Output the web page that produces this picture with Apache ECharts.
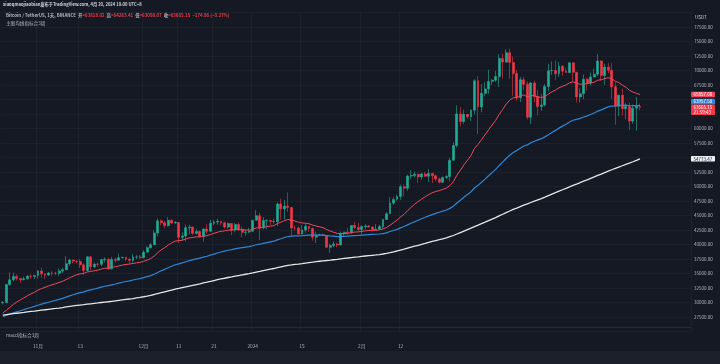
<!DOCTYPE html>
<html><head><meta charset="utf-8">
<script src="https://cdn.jsdelivr.net/npm/echarts@6/dist/echarts.min.js"></script>
<style>html,body{margin:0;padding:0;background:#151924;}#c{width:720px;height:364px;}</style>
</head><body><div id="c"></div>
<script>
// ---- data (BTC/USDT daily, 2023-10-22 .. 2024-04-20) ----
const startDate = '2023-10-22';
const futureSlots = 14;
const opens = [29909,29992,33086,33901,34502,34156,33909,34089,34538,34502,
34667,35437,34938,34732,35082,35049,35037,35443,35655,36694,
37313,37138,37054,36502,35537,37880,36155,36596,36585,37387,
37476,35813,37432,37289,37721,37796,37479,37255,37831,37858,
37723,38682,39450,39973,41991,44074,43762,43273,44171,43713,
43789,41244,41450,42890,43023,41929,42240,41365,42657,42271,
43652,43869,43997,43740,43016,43613,42520,43442,42627,42100,
42156,42283,44180,44946,42845,44151,44162,43989,43943,46970,
46139,46628,46369,42853,42842,41796,42511,43154,42742,41262,
41618,41665,41545,39507,39845,40077,39934,41816,42120,42035,
43288,42952,42582,43082,43200,43012,42583,42659,43085,44318,
45301,47147,47771,48278,49958,49700,51795,51880,52124,51642,
52137,51774,52258,51849,51283,50731,51571,51733,54522,57085,
62504,61198,62440,62029,63168,68245,63724,66074,66823,68124,
68313,68955,72078,71452,73072,71388,69499,65300,68393,67609,
61937,67840,65501,63797,64062,67234,69958,69988,69455,70744,
69892,69645,71333,69702,65446,65980,68508,67837,68896,69362,
71631,69139,70587,70060,67195,63821,65738,63426,63811,61276,
63512,63818.02];
const closes = [29992,33086,33901,34502,34156,33909,34089,34538,34502,34667,
35437,34938,34732,35082,35049,35037,35443,35655,36694,37313,
37138,37054,36502,35537,37880,36155,36596,36585,37387,37476,
35813,37432,37289,37721,37796,37479,37255,37831,37858,37723,
38682,39450,39973,41991,44074,43762,43273,44171,43713,43789,
41244,41450,42890,43023,41929,42240,41365,42657,42271,43652,
43869,43997,43740,43016,43613,42520,43442,42627,42100,42156,
42283,44180,44946,42845,44151,44162,43989,43943,46970,46139,
46628,46369,42853,42842,41796,42511,43154,42742,41262,41618,
41665,41545,39507,39845,40077,39934,41816,42120,42035,43288,
42952,42582,43082,43200,43012,42583,42659,43085,44318,45301,
47147,47771,48278,49958,49700,51795,51880,52124,51642,52137,
51774,52258,51849,51283,50731,51571,51733,54522,57085,62504,
61198,62440,62029,63168,68245,63724,66074,66823,68124,68313,
68955,72078,71452,73072,71388,69499,65300,68393,67609,61937,
67840,65501,63797,64062,67234,69958,69988,69455,70744,69892,
69645,71333,69702,65446,65980,68508,67837,68896,69362,71631,
69139,70587,70060,67195,63821,65738,63426,63811,61276,63512,
63818.02,63665.15];
const lows = [29660,29883,32880,33700,33800,33390,33860,33930,34050,34070,
34100,34300,34100,34580,34530,34730,34530,35108,35550,36330,
36726,36750,35960,34800,35360,35500,35880,36160,36280,36900,
35632,35670,36870,37250,37600,37150,36700,36880,37500,37530,
37600,38640,39280,39960,41420,43335,42800,43080,43583,43565,
40222,40680,40555,41767,41660,41700,41250,40530,41800,42180,
43300,43400,43300,42750,42720,41630,42100,42300,41300,41520,
41970,42180,44150,40750,42630,42620,43400,43570,43200,44300,
44300,45600,41500,42440,41720,41700,42050,42200,40680,40280,
41450,41500,39430,38555,39480,39520,39820,41400,41620,41800,
42680,42280,41880,42580,42880,42260,42500,42570,42790,44250,
45240,46800,47560,47710,48300,49230,51320,51570,50625,51160,
51680,50760,50625,50920,50520,50580,51290,50900,54450,56690,
60360,60780,61650,61320,62400,59005,62800,65550,66000,67520,
68050,67190,68620,71330,68555,65630,64780,64550,66600,61555,
60775,64530,62260,63000,63790,66390,69250,68380,68900,69080,
69560,69560,68110,64490,64500,65060,66560,67450,68810,69040,
68210,67520,69560,65086,60660,62130,62300,61600,59770,60830,
59600,63098.07];
const highs = [30233,33166,35198,35132,34832,34245,34460,34750,34856,34720,
35575,35984,34948,35280,35380,35275,35892,35980,37972,37526,
37408,37225,37420,36760,37980,37930,36850,36850,37540,37760,
37650,37870,37680,38430,37890,37840,37590,38400,38170,38190,
38999,39700,40250,42420,44490,44300,44045,44700,44358,44040,
43800,42100,43430,43400,43090,42700,42430,42760,43500,44283,
44240,44400,44020,43950,43800,43650,43680,43800,43120,42620,
42900,44190,45900,45500,44730,44340,44230,44500,47250,47890,
47695,48970,46500,43250,43080,43380,43580,43200,42930,42200,
41870,41870,41650,40130,40550,40290,42250,42200,42840,43310,
43880,43740,43290,43490,43380,43120,43500,43400,44380,45600,
48200,48170,48590,50330,50370,52040,52820,52580,52200,52350,
52490,52985,52370,52080,51550,51700,51950,54940,57590,64000,
63680,63230,62480,63260,68500,69000,67640,67980,70136,68530,
69900,72800,72890,73650,73777,72420,70040,68900,68920,68100,
68030,68240,66650,65975,67620,71150,71560,71770,71550,70910,
70350,71370,71340,69710,66900,69290,68720,69680,70320,72797,
71760,71170,71260,71230,67930,65840,66870,64350,64480,64130,
65450,64283.41];
// moving averages (red, blue, white)
const maRed = [28190,28656,29154,29663,30091,30454,30800,31156,31474,31778,
32126,32393,32615,32849,33058,33246,33455,33664,33952,34271,
34543,34782,34945,35001,35274,35358,35476,35581,35753,35917,
35907,36052,36170,36317,36458,36555,36622,36737,36843,36927,
37094,37318,37570,37990,38568,39061,39461,39908,40269,40603,
40664,40739,40943,41141,41216,41313,41318,41445,41523,41725,
41929,42125,42279,42349,42469,42474,42566,42572,42527,42492,
42472,42634,42854,42853,42976,43089,43175,43248,43602,43843,
44108,44323,44183,44056,43841,43715,43662,43575,43355,43190,
43045,42903,42580,42320,42107,41901,41893,41915,41926,42055,
42140,42182,42268,42357,42419,42435,42456,42516,42687,42935,
43335,43757,44187,44738,45209,45836,46410,46954,47399,47849,
48222,48605,48913,49138,49289,49506,49718,50174,50831,51940,
52819,53733,54521,55342,56568,57248,58086,58916,59791,60601,
61395,62410,63269,64200,64883,65322,65320,65612,65802,65435,
65663,65648,65472,65338,65518,65940,66325,66622,67014,67287,
67511,67874,68048,67801,67628,67712,67724,67835,67980,68327,
68404,68611,68749,68601,68146,67917,67489,67139,66581,66289,
66056,65857.60];
const maBlue = [27600,27780,27987,28207,28400,28580,28760,28960,29145,29330,
29530,29710,29880,30050,30210,30370,30540,30710,30920,31140,
31340,31530,31700,31830,32040,32180,32330,32470,32640,32800,
32900,33050,33190,33340,33490,33620,33740,33880,34010,34130,
34280,34450,34630,34870,35180,35470,35720,36000,36260,36510,
36660,36820,37020,37220,37380,37530,37660,37820,37970,38160,
38350,38530,38700,38850,39010,39120,39260,39370,39460,39550,
39640,39790,39960,40050,40190,40330,40450,40570,40800,41000,
41210,41380,41430,41480,41490,41520,41570,41610,41600,41600,
41610,41610,41540,41480,41430,41370,41380,41410,41430,41490,
41540,41570,41620,41670,41710,41740,41770,41810,41890,42010,
42240,42420,42610,42860,43100,43380,43660,43930,44190,44450,
44690,44940,45160,45370,45560,45750,45950,46230,46600,47150,
47640,48140,48605,49100,49740,50200,50725,51275,51850,52400,
52955,53585,54190,54830,55385,55875,56190,56600,56990,57165,
57535,57810,58030,58245,58555,58940,59320,59675,60065,60410,
60750,61115,61425,61580,61750,61980,62185,62425,62670,62990,
63215,63475,63720,63860,63895,64005,64000,64015,63925,63935,
63950,63957.58];
const maWhite = [27840,27905,27990,28070,28150,28225,28300,28380,28455,28530,
28610,28680,28750,28825,28900,28970,29045,29130,29240,29330,
29410,29490,29560,29620,29710,29780,29850,29920,30000,30080,
30130,30210,30290,30370,30450,30530,30600,30680,30790,30880,
30990,31110,31240,31380,31540,31690,31840,31990,32140,32290,
32420,32560,32700,32840,32970,33100,33230,33370,33500,33640,
33790,33930,34060,34180,34310,34420,34540,34650,34760,34870,
34980,35110,35250,35360,35490,35620,35740,35860,36010,36150,
36280,36410,36480,36560,36630,36710,36800,36880,36950,37030,
37110,37190,37240,37300,37370,37430,37520,37600,37670,37750,
37820,37880,37950,38020,38080,38140,38200,38270,38360,38470,
38600,38740,38880,39040,39190,39360,39530,39700,39860,40030,
40190,40360,40520,40680,40830,40990,41150,41340,41550,41810,
42060,42310,42560,42810,43090,43330,43590,43850,44120,44380,
44640,44930,45210,45500,45780,46040,46270,46530,46780,46990,
47240,47480,47700,47920,48160,48420,48680,48930,49190,49440,
49690,49950,50200,50420,50660,50910,51150,51400,51650,51910,
52150,52400,52650,52890,53110,53350,53580,53810,54030,54270,
54520,54773.47];
const xTickDates = ['2023-11-01','2023-11-13','2023-12-01','2023-12-11','2023-12-21','2024-01-01','2024-01-15','2024-02-01','2024-02-12'];
const xTickLabels = ['11月','13','12月','11','21','2024','15','2月','12'];
const countdown = '21:59:43';

// ---- build categories (one per day) ----
const categories = [];
{
  const d0 = new Date(startDate + 'T00:00:00Z');
  const n = closes.length + futureSlots;
  for (let i = 0; i < n; i++) {
    const d = new Date(d0.getTime() + i * 86400000);
    categories.push(d.toISOString().slice(0, 10));
  }
}
const tickMap = {};
xTickDates.forEach((d, i) => { tickMap[d] = xTickLabels[i]; });
const candles = closes.map((c, i) => [opens[i], c, lows[i], highs[i]]);

const FONT = "'Noto Sans CJK SC', 'Noto Sans', sans-serif";
const UP = '#22ab94', DOWN = '#f23645';
const RED_LINE = '#f0485a', BLUE_LINE = '#2f86d6', WHITE_LINE = '#e6e6e6';
const TXT = '#b2b5be';
const gridLeft = 1, gridW = 690;

const chart = echarts.init(document.getElementById('c'), null, {renderer: 'canvas'});

const last = a => a[a.length - 1];
const fmt = v => v.toFixed(2);

const baseOption = {
  backgroundColor: '#151924',
  animation: false,
  title: [
    {text: 'xiaoqmaojiaobian发布于TradingView.com, 4月 20, 2024 10:00 UTC+8', left: 3, top: 2.5, padding: 0,
     textStyle: {fontSize: 4.2, color: '#d1d4dc', fontWeight: 'bold', fontFamily: FONT}},
    {text: '{g|Bitcoin / TetherUS, 1天, BINANCE  开}{r|=63818.02}{g|  高}{r|=64283.41}{g|  低}{r|=63098.07}{g|  收}{r|=63665.15  −174.86 (−0.27%)}',
     left: 6, top: 13.3, padding: 0,
     textStyle: {fontSize: 4.4, fontFamily: FONT, rich: {
       g: {color: TXT, fontSize: 4.4, fontFamily: FONT},
       r: {color: DOWN, fontSize: 4.4, fontFamily: FONT}}}},
    {text: '主图均线指标合3周', left: 6, top: 21.2, padding: 0,
     textStyle: {fontSize: 4.6, color: TXT, fontWeight: 'normal', fontFamily: FONT}},
    {text: 'macd指标合3周', left: 6, top: 332.5, padding: 0,
     textStyle: {fontSize: 4.6, color: TXT, fontWeight: 'normal', fontFamily: FONT}}
  ],
  grid: [
    {left: gridLeft, top: 12.5, width: gridW, height: 319},
    {left: gridLeft, top: 328, width: gridW, height: 12}
  ],
  xAxis: [
    {type: 'category', data: categories, gridIndex: 0, boundaryGap: true,
     axisLine: {show: false}, axisTick: {show: false}, axisLabel: {show: false},
     splitLine: {show: true, interval: (i, v) => tickMap[v] !== undefined,
       lineStyle: {color: 'rgba(255,255,255,0.03)', width: 1}}},
    {type: 'category', data: categories, gridIndex: 1, boundaryGap: true,
     axisLine: {show: false}, axisTick: {show: false},
     axisLabel: {show: true, interval: (i, v) => tickMap[v] !== undefined,
       formatter: v => tickMap[v] || '', fontSize: 4.8, color: TXT, margin: 4, fontFamily: FONT},
     splitLine: {show: false}}
  ],
  yAxis: [
    {type: 'value', gridIndex: 0, position: 'right', min: 25000, max: 80000, interval: 2500, scale: false,
     axisLine: {show: false}, axisTick: {show: false},
     axisLabel: {show: true, margin: 3, fontSize: 4.5, color: TXT, fontFamily: FONT,
       showMinLabel: false, showMaxLabel: false, formatter: fmt},
     splitLine: {show: true, lineStyle: {color: 'rgba(255,255,255,0.03)', width: 1}}},
    {type: 'value', gridIndex: 1, show: false, min: 0, max: 1}
  ],
  series: [
    {type: 'candlestick', name: 'BTCUSDT', xAxisIndex: 0, yAxisIndex: 0, data: candles, barWidth: '68%',
     itemStyle: {color: UP, color0: DOWN, borderColor: UP, borderColor0: DOWN, borderWidth: 0.6}, z: 2},
    {type: 'line', name: 'MA red', data: maRed, showSymbol: false, smooth: false,
     lineStyle: {color: RED_LINE, width: 1}, z: 3},
    {type: 'line', name: 'MA blue', data: maBlue, showSymbol: false,
     lineStyle: {color: BLUE_LINE, width: 1.2}, z: 3},
    {type: 'line', name: 'MA white', data: maWhite, showSymbol: false,
     lineStyle: {color: WHITE_LINE, width: 1.3}, z: 3},
    {type: 'line', xAxisIndex: 1, yAxisIndex: 1, data: [], showSymbol: false}
  ]
};
chart.setOption(baseOption);

// ---- price-scale tags, placed with the chart's own scale ----
const toY = v => chart.convertToPixel({yAxisIndex: 0}, v);
const tagX = 691, tagW = 24, lineH = 5.6;
const priceTag = {vals: [fmt(last(closes)), countdown], bg: DOWN, fg: '#ffffff', y: toY(last(closes)), h: lineH * 2 - 0.6};
priceTag.top = priceTag.y - lineH / 2; priceTag.bot = priceTag.top + priceTag.h;
const above = [], below = [];
[{v: last(maRed), bg: RED_LINE, fg: '#ffffff'}, {v: last(maBlue), bg: BLUE_LINE, fg: '#ffffff'},
 {v: last(maWhite), bg: '#eef0f4', fg: '#131722'}].forEach(t => {
  const y = toY(t.v);
  const tag = {vals: [fmt(t.v)], bg: t.bg, fg: t.fg, y: y, h: lineH, top: y - lineH / 2, bot: y + lineH / 2};
  (t.v > last(closes) ? above : below).push(tag);
});
above.sort((a, b) => b.y - a.y);
let limit = priceTag.top;
above.forEach(t => { if (t.bot > limit) { t.bot = limit; t.top = limit - t.h; } limit = t.top; });
below.sort((a, b) => a.y - b.y);
limit = priceTag.bot;
below.forEach(t => { if (t.top < limit) { t.top = limit; t.bot = limit + t.h; } limit = t.bot; });
const tags = [...above, priceTag, ...below];

const graphics = [
  {type: 'rect', shape: {x: 0, y: 351, width: 720, height: 13}, style: {fill: '#1c202b'}, z: -1, silent: true},
  {type: 'line', shape: {x1: 0, y1: 327.5, x2: 691, y2: 327.5}, style: {stroke: '#262a36', lineWidth: 1}, silent: true},
  {type: 'text', x: 695, y: 17.3, style: {text: 'USDT', fill: '#d1d4dc', fontSize: 4.6, fontFamily: FONT, textVerticalAlign: 'middle', verticalAlign: 'middle'}, silent: true}
];
tags.forEach(t => {
  graphics.push({type: 'rect', shape: {x: tagX, y: t.top, width: tagW, height: t.h, r: 0.8}, style: {fill: t.bg}, z: 10, silent: true});
  t.vals.forEach((s, k) => {
    graphics.push({type: 'text', x: tagX + 2.5, y: t.top + lineH / 2 + k * (lineH - 0.6),
      style: {text: s, fill: t.fg, fontSize: 4.5, fontFamily: FONT, textVerticalAlign: 'middle', verticalAlign: 'middle'}, z: 11, silent: true});
  });
});
// hide price-scale labels covered by a tag
const covered = v => { const y = toY(v); return tags.some(t => y > t.top - 2.5 && y < t.bot + 2.5); };
chart.setOption({
  graphic: graphics,
  yAxis: [{axisLabel: {formatter: v => covered(v) ? '' : fmt(v)}}, {}]
});
</script></body></html>
